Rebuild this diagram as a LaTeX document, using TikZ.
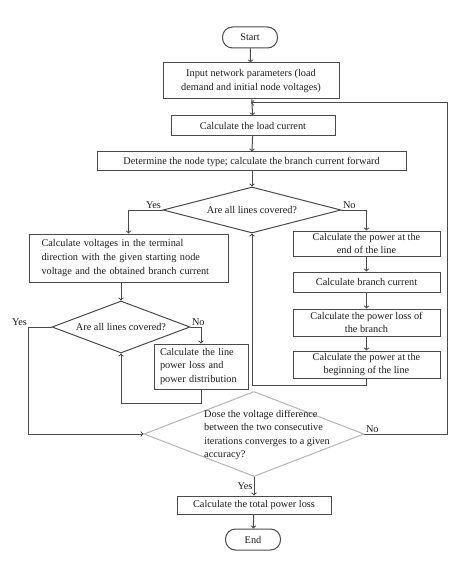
\documentclass[tikz,border=0pt]{standalone}
\usepackage{fontspec}
\setmainfont{Liberation Serif}
\usetikzlibrary{shapes.geometric}

\definecolor{linegray}{HTML}{4A4A4A}
\definecolor{textgray}{HTML}{1E1E1E}
\definecolor{lightline}{HTML}{B5B5B5}
\newcommand{\flowfont}{\fontsize{10.3}{13.6}\selectfont}

\begin{document}
\begin{tikzpicture}[x=1pt, y=-1pt, line cap=round,
	box/.style={draw=linegray, line width=1pt, text=textgray, align=center, inner sep=1.5pt, font=\flowfont},
	term/.style={box, rounded corners=10pt, minimum width=55pt, minimum height=21pt},
	decision/.style={diamond, draw=linegray, line width=1pt, text=textgray, inner sep=0pt, font=\flowfont},
	arr/.style={draw=linegray, line width=1pt, -to},
	lbl/.style={text=textgray, inner sep=1pt, font=\flowfont}]
		
		\useasboundingbox (0,0) rectangle (474,577);
		
		% Main column
		\node[term] (start) at (250,37.5) {Start};
		\node[box, minimum width=176pt, minimum height=36pt] (input) at (251,81) {Input network parameters (load\\demand and initial node voltages)};
		\node[box, minimum width=164pt, minimum height=20pt] (load) at (253,126) {Calculate the load current};
		\node[box, minimum width=309pt, minimum height=19pt] (nodetype) at (251.5,161.5) {Determine the node type; calculate the branch current forward};
		\node[decision, aspect=3.9, minimum width=178pt, minimum height=46pt] (covered1) at (252,210) {Are all lines covered?};
		
		% Left branch
		\node[box, align=left, text width=174pt, inner xsep=12.5pt, minimum height=48pt] (voltage) at (128.5,258) {Calculate voltages in the terminal\\direction with the given starting node\\voltage and the obtained branch current};
		\node[decision, aspect=2.65, minimum width=138pt, minimum height=52pt] (covered2) at (121,327) {Are all lines covered?};
		\node[box, align=left, text width=82pt, inner xsep=6pt, minimum height=45pt] (lineloss) at (201,366.5) {Calculate the line\\power loss and\\power distribution};
		
		% Right branch
		\node[box, minimum width=147pt, minimum height=25pt] (endpower) at (366.5,243.5) {Calculate the power at the\\end of the line};
		\node[box, minimum width=147pt, minimum height=20pt] (branchcur) at (366.5,282) {Calculate branch current};
		\node[box, minimum width=147pt, minimum height=27pt] (branchloss) at (366.5,322.5) {Calculate the power loss of\\the branch};
		\node[box, minimum width=147pt, minimum height=27pt] (beginpower) at (366.5,364.5) {Calculate the power at the\\beginning of the line};
		
		% Convergence check
		\node[decision, draw=lightline, minimum width=220pt, minimum height=85pt] (converge) at (254,434) {};
		\node[lbl, align=left, anchor=west] (convtext) at (203,435) {Dose the voltage difference\\between the two consecutive\\iterations converges to a given\\accuracy?};
		\node[box, minimum width=154pt, minimum height=18pt] (totalloss) at (254,505) {Calculate the total power loss};
		\node[term] (end) at (253,539.5) {End};
		
		% Loop coordinates
		\coordinate (looptop) at (447,103);
		\coordinate (loopin) at (input.south |- looptop);
		
		% Arrows
		\draw[arr] (start) -- (input);
		\draw[arr] (input) -- (load);
		\draw[arr] (load) -- (nodetype);
		\draw[arr] (nodetype.south -| covered1.north) -- (covered1.north);
		\draw[arr] (covered1.west) -| (voltage.north) node[lbl, pos=0, anchor=south east] {Yes};
		\draw[arr] (covered1.east) -| (endpower.north) node[lbl, pos=0, anchor=south west] {No};
		\draw[arr] (endpower) -- (branchcur);
		\draw[arr] (branchcur) -- (branchloss);
		\draw[arr] (branchloss) -- (beginpower);
		\draw[arr] (beginpower.south) -- ++(0,7) -| (covered1.south);
		\draw[arr] (voltage.south -| covered2.north) -- (covered2.north);
		\draw[arr] (covered2.west) -- (covered2.west -| voltage.west) |- (converge.west) node[lbl, pos=0, anchor=south east] {Yes};
		\draw[arr] (covered2.east) -| (lineloss.north) node[lbl, pos=0, anchor=south west] {No};
		\draw[arr] (lineloss.south) -- ++(0,14) -| (covered2.south);
		\draw[arr] (converge.east) node[lbl, anchor=south west] {No} -| (looptop) -- (loopin);
		\draw[arr] (converge.south) -- (totalloss.north) node[lbl, midway, left] {Yes};
		\draw[arr] (totalloss) -- (end);
	\end{tikzpicture}
\end{document}
